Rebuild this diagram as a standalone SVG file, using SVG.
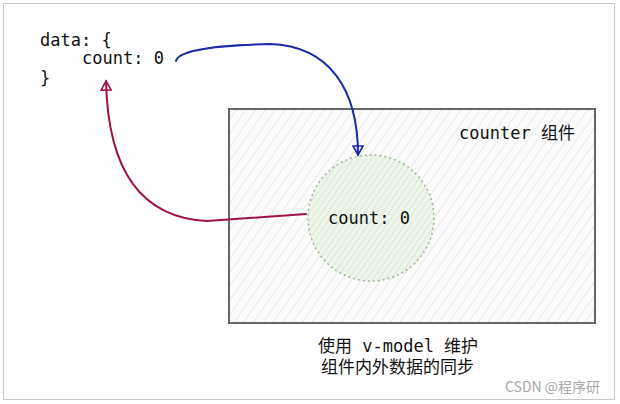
<svg xmlns="http://www.w3.org/2000/svg" width="620" height="404" viewBox="0 0 620 404">
<style>
.mono{font-family:"DejaVu Sans Mono","Liberation Mono",monospace;font-size:17px;fill:#111}
.cjk{font-family:"DejaVu Sans Mono","Noto Sans CJK SC",monospace;font-size:17px;fill:#111}
.wm{font-family:"Noto Sans CJK SC","Liberation Sans",sans-serif;font-size:14px;fill:#a8a8a8}
</style>
<defs>
<pattern id="hg" width="8" height="8" patternUnits="userSpaceOnUse" patternTransform="rotate(35)">
<rect width="8" height="8" fill="#fbfbfb"/>
<line x1="0" y1="0" x2="0" y2="8" stroke="#e2e2e2" stroke-width="1.5"/>
</pattern>
<pattern id="hgr" width="5" height="5" patternUnits="userSpaceOnUse" patternTransform="rotate(35)">
<rect width="5" height="5" fill="#eef5eb"/>
<line x1="0" y1="0" x2="0" y2="5" stroke="#d2e6cc" stroke-width="1.5"/>
</pattern>
<marker id="ab" markerWidth="12" markerHeight="12" refX="10" refY="6" orient="auto" markerUnits="userSpaceOnUse">
<path d="M1,1 L10,6 L1,11 Z" fill="none" stroke="#1a2aa8" stroke-width="1.6"/>
</marker>
<marker id="ar" markerWidth="12" markerHeight="12" refX="10" refY="6" orient="auto" markerUnits="userSpaceOnUse">
<path d="M1,1 L10,6 L1,11 Z" fill="none" stroke="#a0104a" stroke-width="1.6"/>
</marker>
</defs>
<rect x="0" y="0" width="620" height="404" fill="#fff"/>
<rect x="3.5" y="3.5" width="611" height="396" fill="none" stroke="#c8c8c8" stroke-width="1"/>
<g id="data">
<text class="mono" x="40" y="46" xml:space="preserve">data: {</text>
<text class="mono" x="82" y="64">count: 0</text>
<text class="mono" x="40" y="84">}</text>
</g>
<g id="counter">
<rect x="229" y="109" width="366" height="214" fill="url(#hg)" stroke="#666" stroke-width="2"/>
<text class="cjk" x="459" y="139">counter 组件</text>
</g>
<g id="inner">
<circle cx="371" cy="218" r="63" fill="url(#hgr)" stroke="#9ab88f" stroke-width="1.5" stroke-dasharray="2 3"/>
<text class="mono" x="328" y="224">count: 0</text>
</g>
<g id="caption">
<text class="cjk" x="318" y="352" xml:space="preserve">使用 v-model 维护</text>
<text class="cjk" x="321" y="373">组件内外数据的同步</text>
</g>
<text class="wm" x="505" y="392">CSDN @程序研</text>
<g id="connectors" fill="none" stroke-width="2" stroke-linecap="round">
<path d="M176,61 C178,50 220,45 270,44 C330,46 358,90 358,155" stroke="#1a2aa8" marker-end="url(#ab)"/>
<path d="M306,214 L207,221 C145,218 108,175 106,81" stroke="#a0104a" marker-end="url(#ar)"/>
</g>
</svg>
